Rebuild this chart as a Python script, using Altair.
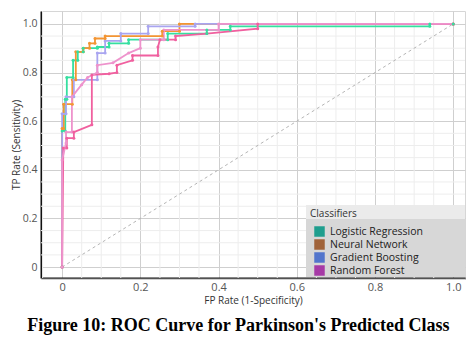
import altair as alt
import pandas as pd

# ---- data ----
lr_fpr = [0, 0, 0.008, 0.008, 0.012, 0.012, 0.028, 0.028, 0.04, 0.04, 0.054, 0.054, 0.09, 0.09, 0.12, 0.12, 0.17, 0.17, 0.27, 0.27, 0.37, 0.37, 0.43, 0.43, 0.94, 0.94, 1.0]
lr_tpr = [0, 0.56, 0.56, 0.69, 0.69, 0.78, 0.78, 0.85, 0.85, 0.885, 0.885, 0.90, 0.90, 0.905, 0.905, 0.92, 0.92, 0.935, 0.935, 0.96, 0.96, 0.975, 0.975, 0.99, 0.99, 1.0, 1.0]

nn_fpr = [0, 0, 0.004, 0.004, 0.026, 0.026, 0.035, 0.035, 0.054, 0.054, 0.07, 0.07, 0.084, 0.084, 0.11, 0.11, 0.256, 0.256, 0.30, 0.30, 1.0]
nn_tpr = [0, 0.57, 0.57, 0.67, 0.67, 0.77, 0.77, 0.885, 0.885, 0.90, 0.90, 0.92, 0.92, 0.94, 0.94, 0.95, 0.95, 0.97, 0.97, 1.0, 1.0]

gb_fpr = [0, 0, 0.01, 0.01, 0.03, 0.03, 0.09, 0.09, 0.11, 0.11, 0.15, 0.15, 0.22, 0.22, 0.34, 0.34, 1.0]
gb_tpr = [0, 0.63, 0.63, 0.70, 0.70, 0.77, 0.77, 0.88, 0.88, 0.93, 0.93, 0.96, 0.96, 0.99, 0.99, 1.0, 1.0]

rf_fpr = [0, 0.003, 0.012, 0.012, 0.03, 0.03, 0.076, 0.076, 0.12, 0.14, 0.14, 0.18, 0.18, 0.245, 0.245, 0.25, 0.29, 0.29, 0.37, 0.50, 0.50, 1.0]
rf_tpr = [0, 0.49, 0.49, 0.53, 0.53, 0.555, 0.585, 0.79, 0.795, 0.80, 0.83, 0.85, 0.87, 0.87, 0.905, 0.935, 0.935, 0.95, 0.96, 0.98, 1.0, 1.0]

rf2_fpr = [0, 0, 0.01, 0.01, 0.025, 0.025, 0.05, 0.065, 0.09, 0.09, 0.13, 0.17, 0.20, 0.20, 0.26, 0.26, 0.40, 0.40, 1.0]
rf2_tpr = [0, 0.44, 0.51, 0.555, 0.555, 0.70, 0.75, 0.78, 0.80, 0.83, 0.84, 0.88, 0.90, 0.935, 0.935, 0.975, 0.975, 1.0, 1.0]

series_names = ["Logistic Regression", "Neural Network", "Gradient Boosting", "Random Forest", "Random Forest 2"]
line_colors = ["#35dfa0", "#f39533", "#a9a5f0", "#f0609f", "#ee93cc"]

legend_names = ["Logistic Regression", "Neural Network", "Gradient Boosting", "Random Forest"]
legend_colors = ["#1f9e8e", "#a0633a", "#5275cc", "#a63aa6"]

diag_x = [0, 1]
diag_y = [0, 1]

major_ticks = [0, 0.2, 0.4, 0.6, 0.8, 1.0]
minor_ticks = [-0.05, 0.05, 0.1, 0.15, 0.25, 0.3, 0.35, 0.45, 0.5, 0.55, 0.65, 0.7, 0.75, 0.85, 0.9, 0.95]

# ---- tables ----
rows = []
for name, xv, yv in zip(series_names,
                        [lr_fpr, nn_fpr, gb_fpr, rf_fpr, rf2_fpr],
                        [lr_tpr, nn_tpr, gb_tpr, rf_tpr, rf2_tpr]):
    for i, (a, b) in enumerate(zip(xv, yv)):
        rows.append({"model": name, "fpr": a, "tpr": b, "idx": i})
roc = pd.DataFrame(rows)
diag = pd.DataFrame({"fpr": diag_x, "tpr": diag_y})
leg = pd.DataFrame({"Classifiers": legend_names})
minor_df = pd.DataFrame({"fpr": minor_ticks, "tpr": minor_ticks})
one = pd.DataFrame({"a": [0]})

xs = alt.Scale(domain=[-0.054, 1.03], nice=False, zero=False)
ys = alt.Scale(domain=[-0.045, 1.053], nice=False, zero=False)
lab_expr = "datum.value == 0 ? '0' : format(datum.value, '.1f')"
font = "Open Sans"

x_axis = alt.Axis(
    values=major_ticks, labelExpr=lab_expr, grid=True, gridColor="#cfcfcf", gridWidth=1,
    domainColor="#111", domainWidth=2, ticks=False, labelPadding=3,
    labelColor="#555", labelFontSize=11, labelFont=font,
    title="FP Rate (1-Specificity)", titleFont=font, titleFontSize=10,
    titleFontWeight="normal", titleColor="#333", titlePadding=3)
y_axis = alt.Axis(
    values=major_ticks, labelExpr=lab_expr, grid=True, gridColor="#cfcfcf", gridWidth=1,
    domainColor="#111", domainWidth=2, ticks=False, labelPadding=4,
    labelColor="#555", labelFontSize=10.5, labelFont=font,
    title="TP Rate (Sensitivity)", titleFont=font, titleFontSize=10,
    titleFontWeight="normal", titleColor="#333", titlePadding=1)

X = alt.X("fpr:Q", scale=xs, axis=x_axis)
Y = alt.Y("tpr:Q", scale=ys, axis=y_axis)

minor_x = alt.Chart(minor_df).mark_rule(color="#ededed", strokeWidth=1).encode(x=X)
minor_y = alt.Chart(minor_df).mark_rule(color="#ededed", strokeWidth=1).encode(y=Y)

diag_line = alt.Chart(diag).mark_line(
    color="#b5b5b5", strokeDash=[3, 3], strokeWidth=1
).encode(x=X, y=Y)

lines = alt.Chart(roc).mark_line(
    strokeWidth=1.8,
    point=alt.OverlayMarkDef(size=9, filled=True),
).encode(
    x=X, y=Y,
    color=alt.Color("model:N", scale=alt.Scale(domain=series_names, range=line_colors), legend=None),
    order="idx:Q",
    detail="model:N",
)

# legend background panel (two-tone, as in the reference)
leg_top = alt.Chart(one).mark_rect(color="#ebebeb").encode(
    x=alt.value(265), x2=alt.value(424), y=alt.value(194), y2=alt.value(208))
leg_body = alt.Chart(one).mark_rect(color="#d7d7d7").encode(
    x=alt.value(265), x2=alt.value(424), y=alt.value(208), y2=alt.value(266))

legend_layer = alt.Chart(leg).mark_square(opacity=0, size=100).encode(
    x=alt.value(0),
    y=alt.value(0),
    fill=alt.Fill("Classifiers:N", scale=alt.Scale(domain=legend_names, range=legend_colors),
                  legend=alt.Legend(
                      orient="none", legendX=265, legendY=194,
                      title="Classifiers", titleFont=font, titleFontSize=10,
                      titleFontWeight="normal", titleColor="#333",
                      labelFont=font, labelFontSize=10.5, labelColor="#222",
                      symbolType="square", symbolSize=110, symbolOpacity=1,
                      symbolStrokeWidth=0, padding=4, rowPadding=2, labelLimit=200,
                      symbolOffset=4, titlePadding=7, labelOffset=5)),
)

chart = alt.layer(minor_x, minor_y, diag_line, lines, leg_top, leg_body, legend_layer).properties(
    width=424, height=267,
    padding={"left": 41, "top": 11, "right": 9, "bottom": 68},
    autosize=alt.AutoSizeParams(type="none"),
    title=alt.TitleParams(
        text="Figure 10: ROC Curve for Parkinson's Predicted Class",
        orient="bottom", anchor="middle", frame="bounds",
        font="Liberation Serif", fontSize=18, fontWeight="bold", color="#000",
        offset=12),
    background="white",
).configure_view(stroke="#d6d6d6", strokeWidth=1)

chart.save("out.html", embed_options={"renderer": "svg", "actions": False})
